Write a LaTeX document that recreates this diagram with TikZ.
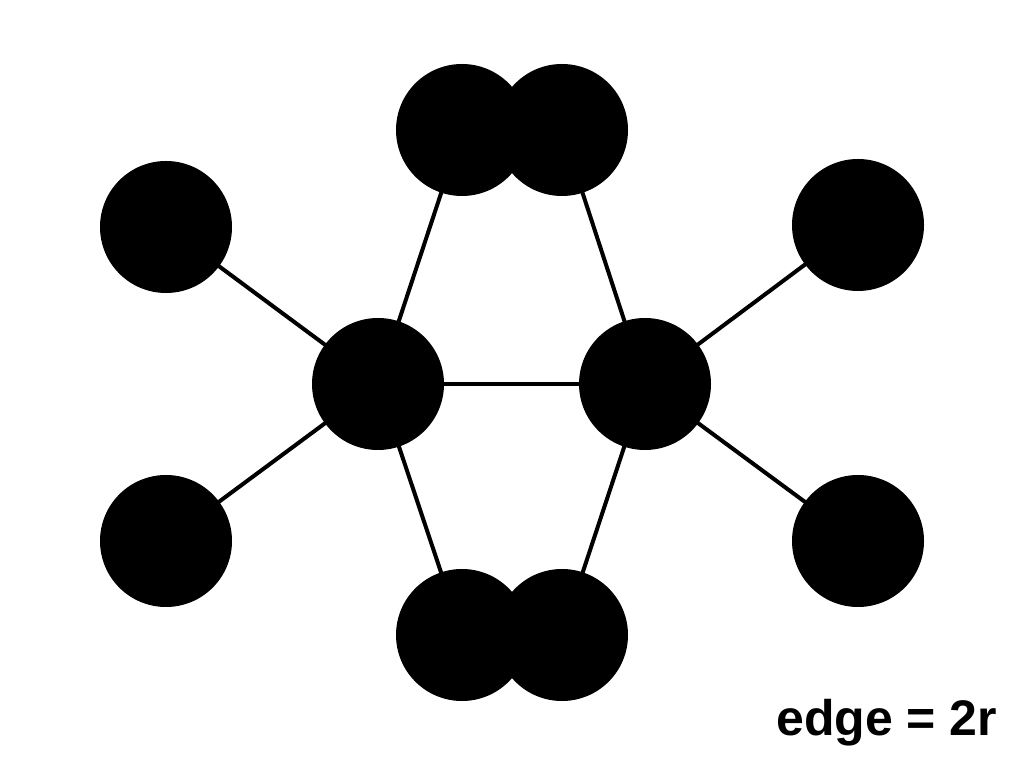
\documentclass[tikz,border=0pt]{standalone}
\usepackage{fontspec}
\setmainfont{Liberation Sans}
\usetikzlibrary{backgrounds}
\begin{document}
\begin{tikzpicture}[x=1pt,y=1pt,
  ball/.style={circle,fill=black,draw=none,minimum size=132pt,inner sep=0pt},
  bond/.style={line width=4pt,black}]
\useasboundingbox (0,0) rectangle (1024,768);
% atoms (y = 768 - pixel y)
\node[ball] (L)  at (378,384) {};
\node[ball] (R)  at (645,384) {};
\node[ball] (LU) at (166,541) {};
\node[ball] (LD) at (166,227) {};
\node[ball] (RU) at (858,543) {};
\node[ball] (RD) at (858,227) {};
\node[ball] (TA) at (462,638) {};
\node[ball] (TB) at (562,638) {};
\node[ball] (BA) at (462,133) {};
\node[ball] (BB) at (562,133) {};
% bonds behind the atoms
\begin{scope}[on background layer]
\draw[bond] (L.center) -- (R.center);
\draw[bond] (L.center) -- (LU.center);
\draw[bond] (L.center) -- (LD.center);
\draw[bond] (R.center) -- (RU.center);
\draw[bond] (R.center) -- (RD.center);
\draw[bond] (L.center) -- (TA.center);
\draw[bond] (R.center) -- (TB.center);
\draw[bond] (L.center) -- (BA.center);
\draw[bond] (R.center) -- (BB.center);
\end{scope}
\node[anchor=base west,inner sep=0pt,font=\fontsize{50}{50}\selectfont\bfseries] (lbl) at (776,33) {edge = 2r};
\end{tikzpicture}
\end{document}
